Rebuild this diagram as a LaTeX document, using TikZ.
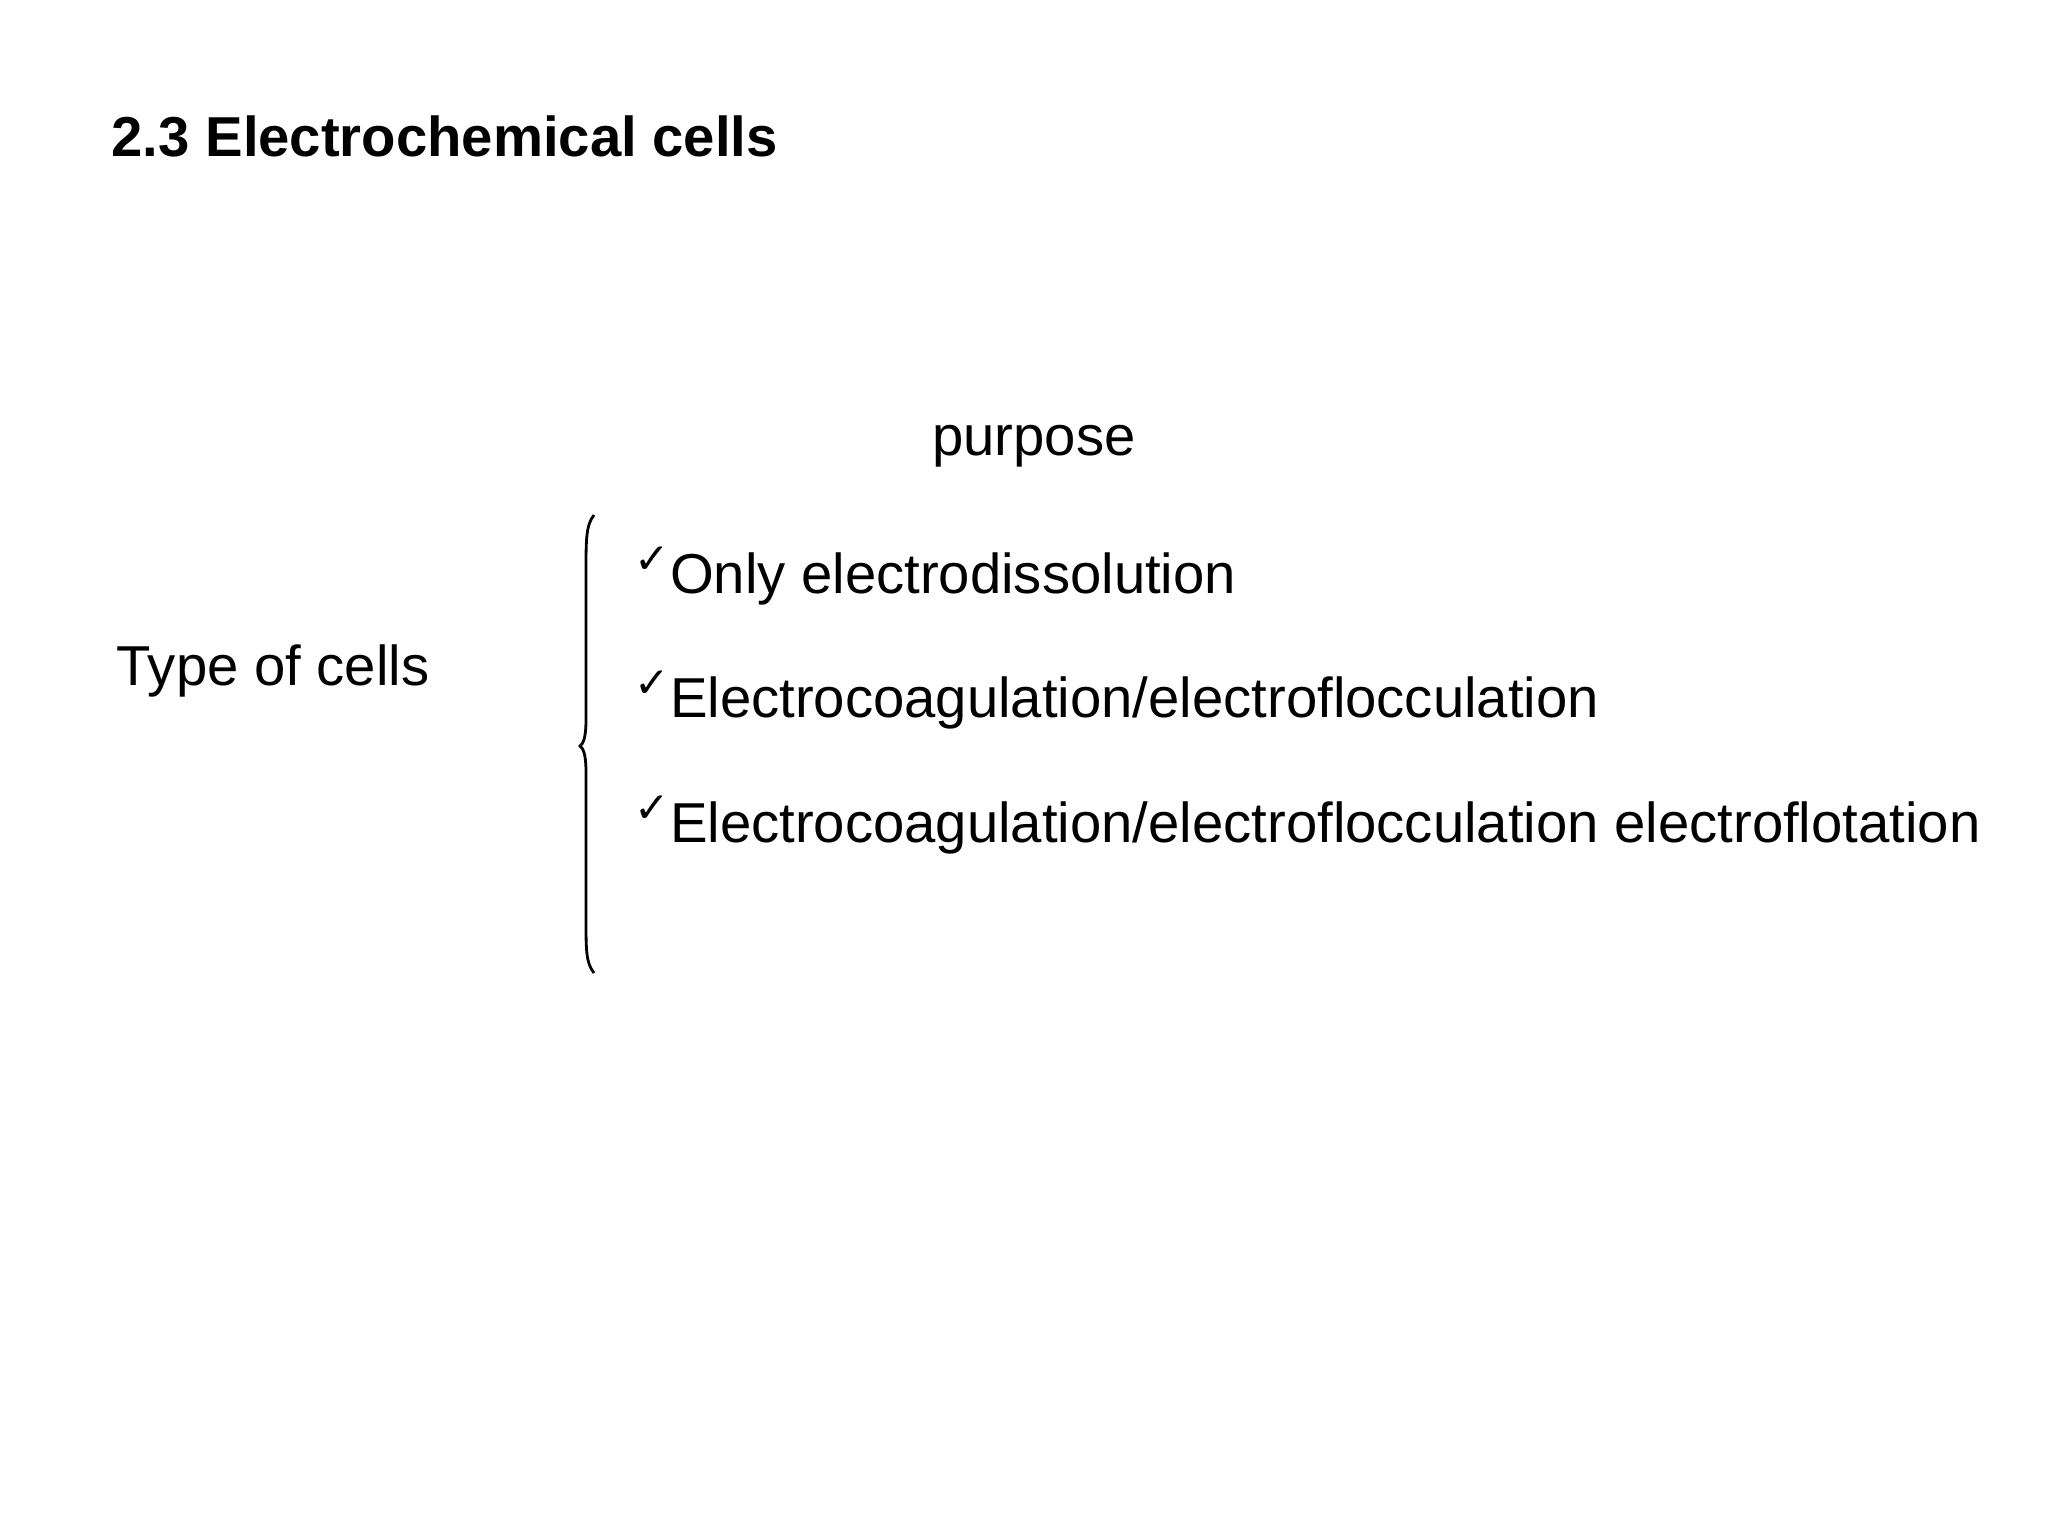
\documentclass[tikz,border=0pt]{standalone}
\usepackage{fontspec}
\setmainfont{Liberation Sans}
\newfontfamily\symf{DejaVu Sans}
\begin{document}
\begin{tikzpicture}[x=0.01cm,y=-0.01cm,
  txt/.style={font=\fontsize{16}{19}\selectfont, inner sep=0pt},
  item/.style={txt, anchor=west}]
\useasboundingbox (0,0) rectangle (2048,1536);
\node[txt, font=\fontsize{16}{19}\selectfont\bfseries, anchor=west] (title) at (111,136) {2.3 Electrochemical cells};
\node[txt] (purpose) at (1034,446) {purpose};
\node[item] (type) at (116,671) {Type of cells};
\node[item] (i1) at (634,576) {\raisebox{0.35em}{\symf\fontsize{12}{12}\selectfont ✓}Only electrodissolution};
\node[item] (i2) at (634,700) {\raisebox{0.35em}{\symf\fontsize{12}{12}\selectfont ✓}Electrocoagulation/electroflocculation};
\node[item] (i3) at (634,825) {\raisebox{0.35em}{\symf\fontsize{12}{12}\selectfont ✓}Electrocoagulation/electroflocculation electroflotation};
\coordinate (btop) at (594,515);
\coordinate (btip) at (580,746);
\coordinate (bbot) at (594,973);
\draw[line width=0.8pt] (btop) .. controls (586,525) and (586,540) .. (586,570)
  -- (586,720) .. controls (586,738) and (583,744) .. (btip)
  .. controls (583,748) and (586,754) .. (586,772)
  -- (586,920) .. controls (586,950) and (586,963) .. (bbot);
\end{tikzpicture}
\end{document}
